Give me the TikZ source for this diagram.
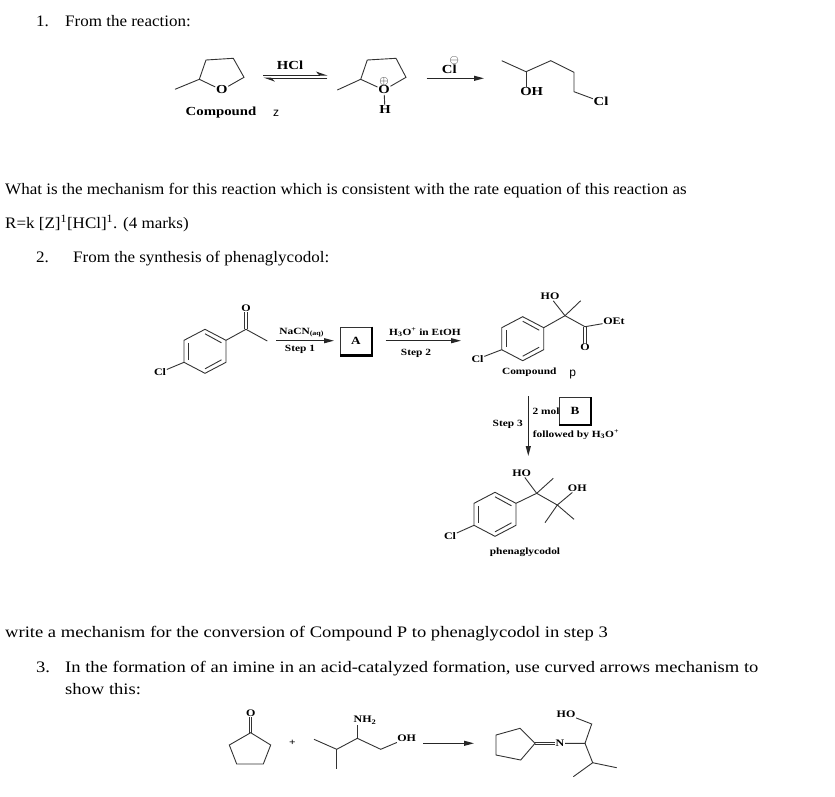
\documentclass[tikz,border=0pt]{standalone}
\usepackage{fontspec}
\setmainfont{Liberation Serif}
\newfontfamily\bodyfont[FakeStretch=1.063]{Liberation Serif}
\newfontfamily\widefont[FakeStretch=1.16]{Liberation Serif}
\newfontfamily\chemfont[FakeStretch=1.2]{Liberation Serif}
\newfontfamily\notefont{Liberation Sans}
\usetikzlibrary{arrows.meta}

\tikzset{
	bond/.style={draw=black!80, line width=0.9pt},
	rxn/.style={draw=black!85, line width=1pt, -{Triangle[length=10pt,width=5pt]}},
	half/.style={draw=black!85, line width=1pt, -{Stealth[length=10pt,width=7pt,left]}},
	body/.style={anchor=base west, inner sep=0pt, font=\bodyfont\fontsize{16}{18}\selectfont},
	wide/.style={anchor=base west, inner sep=0pt, font=\widefont\fontsize{16}{18}\selectfont},
	atom/.style={inner sep=0.6pt, font=\chemfont\fontsize{10}{11}\bfseries\selectfont},
	bigatom/.style={inner sep=0.6pt, font=\chemfont\fontsize{12.2}{13}\bfseries\selectfont},
	note/.style={inner sep=0pt, yshift=-1pt, font=\chemfont\fontsize{9.5}{11}\bfseries\selectfont},
	bignote/.style={inner sep=0pt, yshift=-1pt, font=\chemfont\fontsize{12.3}{13}\bfseries\selectfont},
	letter/.style={inner sep=0pt, font=\notefont\fontsize{12}{13}\selectfont},
	charge/.style={inner sep=0pt, font=\fontsize{11.5}{12}\selectfont},
	answerbox/.style={draw=black!80, line width=0.9pt, minimum width=31pt, minimum height=28pt, inner sep=0pt, font=\chemfont\fontsize{11}{12}\bfseries\selectfont},
	aryl/.pic={
		\coordinate (-a) at (21,-11);
		\coordinate (-b) at (0,-22);
		\coordinate (-c) at (-21,-11);
		\coordinate (-d) at (-21,11);
		\coordinate (-e) at (0,22);
		\coordinate (-f) at (21,11);
		\draw[bond] (-a) -- (-b) -- (-c) -- (-d) -- (-e) -- (-f) -- cycle;
		\draw[bond] (-16.5,-8.5) -- (-16.5,8.5);
		\draw[bond] (0,-17.5) -- (16.5,-8.5);
		\draw[bond] (0,17.5) -- (16.5,8.5);
	}
}

\begin{document}
\begin{tikzpicture}[x=1pt,y=-1pt]
	\useasboundingbox (0,0) rectangle (835,796);

	% question 1
	\node[body] (numa) at (36,26.5) {1.};
	\node[body] (texta) at (65,26.5) {From the reaction:};

	% compound z
	\coordinate (za) at (175,89.3);
	\coordinate (zb) at (199.3,79.3);
	\coordinate (zc) at (206,60);
	\coordinate (zd) at (233.3,58.3);
	\coordinate (ze) at (244,77.3);
	\node[bigatom] (zo) at (221.7,90) {O};
	\draw[bond] (za) -- (zb) -- (zc) -- (zd) -- (ze) -- (zo) -- (zb);
	\node[bignote] (zname) at (221,111.5) {Compound};
	\node[letter] (zletter) at (276,113) {z};

	% equilibrium
	\coordinate (eqa) at (263.3,75);
	\coordinate (eqb) at (327.3,75);
	\coordinate (eqc) at (263.3,78);
	\coordinate (eqd) at (327.3,78);
	\node[bignote] (hcl) at (290,64) {HCl};
	\draw[half] (eqa) -- (eqb);
	\draw[half] (eqd) -- (eqc);

	% protonated ring
	\coordinate (ya) at (337.3,90);
	\coordinate (yb) at (360.7,79.3);
	\coordinate (yc) at (367.3,60);
	\coordinate (yd) at (396,58.3);
	\coordinate (ye) at (406,77.3);
	\node[bigatom] (yo) at (384,90) {O};
	\node[bigatom] (yh) at (385,110) {H};
	\draw[bond] (ya) -- (yb) -- (yc) -- (yd) -- (ye) -- (yo) -- (yb);
	\draw[bond] (yo) -- (yh);
	\node[charge] (yplus) at (384,81.5) {$\oplus$};

	% chloride step
	\coordinate (cla) at (426.7,78.3);
	\coordinate (clb) at (484,78.3);
	\draw[rxn] (cla) -- (clb);
	\node[bignote] (clion) at (449.3,68.3) {Cl};
	\node[charge] (clminus) at (454.3,60.7) {$\ominus$};

	% chloro alcohol
	\coordinate (xa) at (501.7,60.7);
	\coordinate (xb) at (526,71.7);
	\coordinate (xc) at (550.7,60.7);
	\coordinate (xd) at (574,72.3);
	\coordinate (xe) at (574,91.7);
	\node[bigatom] (xcl) at (601,101.7) {Cl};
	\node[bigatom] (xoh) at (531.7,91.7) {OH};
	\draw[bond] (xa) -- (xb) -- (xc) -- (xd) -- (xe) -- (xcl);
	\draw[bond] (xb) -- (xb |- xoh.north);

	% text
	\node[body] (textb) at (5,194.5) {What is the mechanism for this reaction which is consistent with the rate equation of this reaction as};
	\node[body] (textc) at (5,228.5) {R=k [Z]\textsuperscript{1}[HCl]\textsuperscript{1}. (4 marks)};
	\node[body] (numb) at (36,262) {2.};
	\node[body] (textd) at (73,262) {From the synthesis of phenaglycodol:};

	% chloro acetophenone
	\pic (ra) at (205,351.3) {aryl};
	\coordinate (acc) at (246,329.3);
	\coordinate (acm) at (267.3,341);
	\node[atom] (aco) at (246,308.3) {O};
	\node[atom] (acl) at (160,372.3) {Cl};
	\draw[bond] (ra-a) -- (acc) -- (acm);
	\draw[bond, transform canvas={xshift=-1.2pt}] (acc) -- (aco);
	\draw[bond, transform canvas={xshift=1.2pt}] (acc) -- (aco);
	\draw[bond] (ra-d) -- (acl);

	% steps 1 and 2
	\coordinate (sa) at (276,340.7);
	\coordinate (sb) at (334,340.7);
	\draw[rxn] (sa) -- (sb);
	\node[note] (naoh) at (301.7,331.5) {NaCN\textsubscript{(aq)}};
	\node[note] (stepa) at (300,348.3) {Step 1};
	\node[answerbox] (boxa) at (356,341) {A};
	\draw[draw=black, line width=2.4pt] (boxa.north east) -- (boxa.south east) -- (boxa.south west);
	\coordinate (sc) at (385.7,340.7);
	\coordinate (sd) at (461,340.7);
	\draw[rxn] (sc) -- (sd);
	\node[note] (acid) at (425,331.5) {H\textsubscript{3}O\textsuperscript{+} in EtOH};
	\node[note] (stepb) at (416,352.3) {Step 2};

	% compound p
	\pic (rb) at (522.7,338.7) {aryl};
	\coordinate (pa) at (565,315.7);
	\coordinate (pm) at (580.7,300.7);
	\coordinate (pc) at (585,326.7);
	\node[atom] (pho) at (550,296.7) {HO};
	\node[atom] (po) at (585,347.7) {O};
	\node[atom] (pet) at (614,321.7) {OEt};
	\node[atom] (pcl) at (477.5,359) {Cl};
	\draw[bond] (rb-a) -- (pa) -- (pm);
	\draw[bond] (pa) -- (pc) -- (pet);
	\draw[bond] (pa) -- (pho);
	\draw[bond, transform canvas={xshift=-1.2pt}] (pc) -- (po);
	\draw[bond, transform canvas={xshift=1.2pt}] (pc) -- (po);
	\draw[bond] (rb-d) -- (pcl);
	\node[note] (pname) at (529.3,371) {Compound};
	\node[letter] (pletter) at (572.7,375) {p};

	% step 3
	\coordinate (ta) at (528.3,396);
	\coordinate (tb) at (528.3,456);
	\draw[rxn] (ta) -- (tb);
	\node[note] (stepc) at (507.7,423.3) {Step 3};
	\node[note] (mol) at (546,410.7) {2 mol};
	\node[answerbox, minimum height=27pt] (boxb) at (575,411) {B};
	\draw[draw=black, line width=2.4pt] (boxb.north east) -- (boxb.south east) -- (boxb.south west);
	\node[note, anchor=west] (then) at (532.7,433.5) {followed by H\textsubscript{3}O\textsuperscript{+}};

	% phenaglycodol
	\pic (rc) at (495,514.3) {aryl};
	\coordinate (qa) at (536.7,493.3);
	\coordinate (qm) at (553.3,478.3);
	\coordinate (qb) at (557.3,505);
	\coordinate (qc) at (545,522.7);
	\coordinate (qd) at (574,519.3);
	\node[atom] (qho) at (521.7,473.3) {HO};
	\node[atom] (qoh) at (577.3,488.3) {OH};
	\node[atom] (qcl) at (450,536) {Cl};
	\draw[bond] (rc-a) -- (qa) -- (qm);
	\draw[bond] (qa) -- (qho);
	\draw[bond] (qa) -- (qb) -- (qoh);
	\draw[bond] (qc) -- (qb) -- (qd);
	\draw[bond] (rc-d) -- (qcl);
	\node[note] (qname) at (525,551.7) {phenaglycodol};

	% question 3
	\node[wide] (texte) at (5,637) {write a mechanism for the conversion of Compound P to phenaglycodol in step 3};
	\node[wide] (numc) at (36,672.5) {3.};
	\node[wide] (textf) at (65,672.5) {In the formation of an imine in an acid-catalyzed formation, use curved arrows mechanism to};
	\node[wide] (textg) at (65,694) {show this:};

	% cyclopentanone
	\coordinate (ka) at (250.7,732.7);
	\coordinate (kb) at (270.7,745);
	\coordinate (kc) at (263.3,764);
	\coordinate (kd) at (236.7,764);
	\coordinate (ke) at (229.3,745);
	\node[atom] (ko) at (250.7,713.3) {O};
	\draw[bond] (ka) -- (kb) -- (kc) -- (kd) -- (ke) -- cycle;
	\draw[bond, transform canvas={xshift=-1.2pt}] (ka) -- (ko);
	\draw[bond, transform canvas={xshift=1.2pt}] (ka) -- (ko);
	\node[note] (plus) at (292.3,742.3) {+};

	% amino alcohol
	\coordinate (aa) at (314,739.3);
	\coordinate (ab) at (336.7,749.3);
	\coordinate (ac) at (336.7,769.3);
	\coordinate (ad) at (357.3,738.3);
	\coordinate (ae) at (380.7,749.3);
	\node[atom] (anh) at (365,720) {NH\textsubscript{2}};
	\node[atom] (aoh) at (406.7,738.3) {OH};
	\draw[bond] (aa) -- (ab) -- (ad) -- (ae) -- (aoh);
	\draw[bond] (ab) -- (ac);
	\draw[bond] (ad) -- (ad |- anh.south);

	% last arrow
	\coordinate (ua) at (423.3,743.3);
	\coordinate (ub) at (474,743.3);
	\draw[rxn] (ua) -- (ub);

	% imine
	\coordinate (ia) at (535,743.3);
	\coordinate (ib) at (520,728.3);
	\coordinate (ic) at (496,735);
	\coordinate (id) at (496,755);
	\coordinate (ie) at (520.7,760);
	\coordinate (if) at (585,743.3);
	\coordinate (ig) at (591.7,724);
	\coordinate (ih) at (592.7,762.7);
	\coordinate (ii) at (573.3,776.7);
	\coordinate (ij) at (616.7,767.7);
	\node[atom] (in) at (560,743.3) {N};
	\node[atom] (iho) at (566,714) {HO};
	\draw[bond] (ia) -- (ib) -- (ic) -- (id) -- (ie) -- cycle;
	\draw[bond, transform canvas={yshift=-1.2pt}] (ia) -- (in);
	\draw[bond, transform canvas={yshift=1.2pt}] (ia) -- (in);
	\draw[bond] (in) -- (if) -- (ig) -- (iho);
	\draw[bond] (if) -- (ih) -- (ii);
	\draw[bond] (ih) -- (ij);

\end{tikzpicture}
\end{document}
